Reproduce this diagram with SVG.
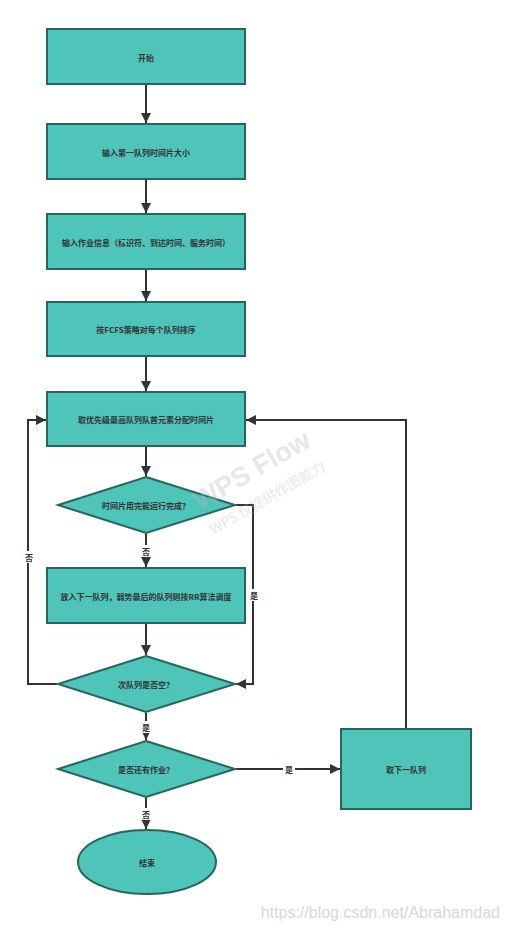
<svg xmlns="http://www.w3.org/2000/svg" width="508" height="931" viewBox="0 0 508 931">
<style>
.n{fill:#4fc4b9;stroke:#26665f;stroke-width:2}
.t{font-family:"Noto Sans CJK SC","Liberation Sans",sans-serif;font-size:8px;font-weight:bold;fill:#333;text-anchor:middle;dominant-baseline:central}
.c{fill:none;stroke:#333;stroke-width:2}
.l{font-family:"Noto Sans CJK SC","Liberation Sans",sans-serif;font-size:8px;font-weight:bold;fill:#333;text-anchor:middle;dominant-baseline:central}
.lb{fill:#fff}
</style>
<defs>
<marker id="a" viewBox="0 0 10 10" refX="10" refY="5" markerWidth="5" markerHeight="5" orient="auto" markerUnits="strokeWidth">
<path d="M0,0 L10,5 L0,10 z" fill="#333"/>
</marker>
</defs>
<rect width="508" height="931" fill="#fff"/>
<g id="connectors">
<path class="c" d="M146,85 V123" marker-end="url(#a)"/>
<path class="c" d="M146,180 V213" marker-end="url(#a)"/>
<path class="c" d="M146,270 V301" marker-end="url(#a)"/>
<path class="c" d="M146,357 V391" marker-end="url(#a)"/>
<path class="c" d="M146,447 V476" marker-end="url(#a)"/>
<path class="c" d="M146,534 V567" marker-end="url(#a)"/>
<path class="c" d="M146,624 V655" marker-end="url(#a)"/>
<path class="c" d="M146,713 V740" marker-end="url(#a)"/>
<path class="c" d="M146,798 V829" marker-end="url(#a)"/>
<path class="c" d="M236,505 H253 V684 H236" marker-end="url(#a)"/>
<path class="c" d="M57,684 H28 V420 H46" marker-end="url(#a)"/>
<path class="c" d="M236,769 H340" marker-end="url(#a)"/>
<path class="c" d="M406,728 V420 H246" marker-end="url(#a)"/>
<rect class="lb" x="140" y="545" width="12" height="12"/>
<text class="l" x="146" y="551">否</text>
<rect class="lb" x="140" y="721" width="12" height="12"/>
<text class="l" x="146" y="727">是</text>
<rect class="lb" x="140" y="808" width="12" height="12"/>
<text class="l" x="146" y="814">否</text>
<rect class="lb" x="283" y="763" width="12" height="12"/>
<text class="l" x="289" y="769">是</text>
<rect class="lb" x="248" y="589" width="12" height="12"/>
<text class="l" x="254" y="595">是</text>
<rect class="lb" x="23" y="551" width="12" height="12"/>
<text class="l" x="29" y="557">否</text>
</g>
<g id="n1"><rect class="n" x="47" y="29" width="198" height="55"/><text class="t" x="146" y="57">开始</text></g>
<g id="n2"><rect class="n" x="47" y="124" width="198" height="55"/><text class="t" x="146" y="152">输入第一队列时间片大小</text></g>
<g id="n3"><rect class="n" x="47" y="214" width="198" height="55"/><text class="t" x="146" y="242">输入作业信息（标识符、到达时间、服务时间）</text></g>
<g id="n4"><rect class="n" x="47" y="302" width="198" height="54"/><text class="t" x="146" y="329">按FCFS策略对每个队列排序</text></g>
<g id="n5"><rect class="n" x="47" y="392" width="198" height="54"/><text class="t" x="146" y="419">取优先级最高队列队首元素分配时间片</text></g>
<g id="n6"><polygon class="n" points="146,477 235,505 146,533 58,505"/><text class="t" x="146" y="505">时间片用完能运行完成？</text></g>
<g id="n7"><rect class="n" x="47" y="568" width="198" height="55"/><text class="t" x="146" y="596">放入下一队列，弱势最后的队列则按RR算法调度</text></g>
<g id="n8"><polygon class="n" points="146,656 235,684 146,712 58,684"/><text class="t" x="146" y="684">次队列是否空？</text></g>
<g id="n9"><polygon class="n" points="146,741 235,769 146,797 58,769"/><text class="t" x="146" y="769">是否还有作业？</text></g>
<g id="n10"><ellipse class="n" cx="147" cy="862" rx="69" ry="32"/><text class="t" x="147" y="862">结束</text></g>
<g id="n11"><rect class="n" x="341" y="729" width="130" height="80"/><text class="t" x="406" y="769">取下一队列</text></g>
<g id="watermark" opacity="0.35">
<text x="256" y="478" transform="rotate(-30 256 478)" font-family="'Liberation Sans',sans-serif" font-size="27" font-weight="bold" fill="#bbb" text-anchor="middle">WPS Flow</text>
<text x="270" y="502" transform="rotate(-30 270 502)" font-family="'Noto Sans CJK SC',sans-serif" font-size="14" fill="#bbb" text-anchor="middle">WPS 仅提供作图能力</text>
</g>
<text x="500" y="918" font-family="'Liberation Sans',sans-serif" font-size="16" fill="#d8d8d8" text-anchor="end">https://blog.csdn.net/Abrahamdad</text>
</svg>
